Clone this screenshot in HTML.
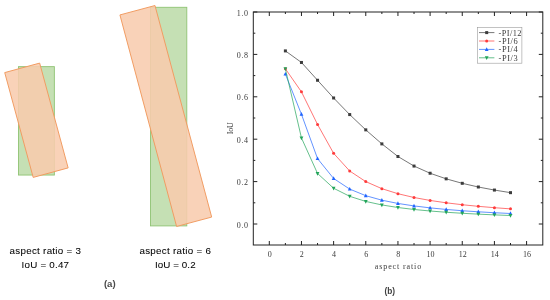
<!DOCTYPE html>
<html lang="en"><head><meta charset="utf-8"><title>IoU vs aspect ratio</title>
<style>
html,body{margin:0;padding:0;background:#fff;}
body{width:550px;height:300px;overflow:hidden;}
svg{display:block;}
.cal{font-family:"Liberation Sans",sans-serif;font-size:9.8px;fill:#000;stroke:#000;stroke-width:0.05px;}
.sim{font-family:"Liberation Serif",serif;font-size:8px;fill:#3a3a3a;}
.cap{font-family:"Liberation Sans",sans-serif;font-weight:bold;fill:#404040;}
</style></head><body>
<svg width="550" height="300" viewBox="0 0 550 300">
<rect width="550" height="300" fill="#fff"/>

<rect x="18.45" y="66.65" width="35.90" height="108.40" fill="#c5e0b4" stroke="#8fc373" stroke-width="0.9"/>
<rect x="-18.10" y="-54.30" width="36.20" height="108.60" fill="#f8cbad" fill-opacity="0.87" stroke="#f19b62" stroke-width="0.9" transform="translate(36.43,120.25) rotate(-15.2)"/>
<rect x="150.50" y="7.30" width="36.30" height="218.60" fill="#c5e0b4" stroke="#8fc373" stroke-width="0.9"/>
<rect x="-18.15" y="-109.50" width="36.30" height="219.00" fill="#f8cbad" fill-opacity="0.87" stroke="#f19b62" stroke-width="0.9" transform="translate(165.80,116.00) rotate(-15)"/>
<text class="cal" x="45.3" y="254.4" text-anchor="middle" textLength="71.4" lengthAdjust="spacing">aspect ratio = 3</text>
<text class="cal" x="45.3" y="267.8" text-anchor="middle" textLength="47.4" lengthAdjust="spacing">IoU = 0.47</text>
<text class="cal" x="175.2" y="254.4" text-anchor="middle" textLength="71.6" lengthAdjust="spacing">aspect ratio = 6</text>
<text class="cal" x="175.3" y="267.8" text-anchor="middle" textLength="40.6" lengthAdjust="spacing">IoU = 0.2</text>
<text class="cap" x="109.8" y="286.5" text-anchor="middle" style="font-size:9.6px;fill:#4a4a4a">(a)</text>
<text class="cap" x="389.7" y="294.3" text-anchor="middle" style="font-size:8.3px">(b)</text>
<rect x="253.3" y="12.0" width="289.50" height="233.00" fill="none" stroke="#222" stroke-width="1"/>
<path d="M269.30,245.0v-4M269.30,12.0v4M285.38,245.0v-2M285.38,12.0v2M301.46,245.0v-4M301.46,12.0v4M317.54,245.0v-2M317.54,12.0v2M333.62,245.0v-4M333.62,12.0v4M349.70,245.0v-2M349.70,12.0v2M365.78,245.0v-4M365.78,12.0v4M381.86,245.0v-2M381.86,12.0v2M397.94,245.0v-4M397.94,12.0v4M414.02,245.0v-2M414.02,12.0v2M430.10,245.0v-4M430.10,12.0v4M446.18,245.0v-2M446.18,12.0v2M462.26,245.0v-4M462.26,12.0v4M478.34,245.0v-2M478.34,12.0v2M494.42,245.0v-4M494.42,12.0v4M510.50,245.0v-2M510.50,12.0v2M526.58,245.0v-4M526.58,12.0v4M253.3,224.00h4M542.8,224.00h-4M253.3,202.80h2M542.8,202.80h-2M253.3,181.60h4M542.8,181.60h-4M253.3,160.40h2M542.8,160.40h-2M253.3,139.20h4M542.8,139.20h-4M253.3,118.00h2M542.8,118.00h-2M253.3,96.80h4M542.8,96.80h-4M253.3,75.60h2M542.8,75.60h-2M253.3,54.40h4M542.8,54.40h-4M253.3,33.20h2M542.8,33.20h-2M253.3,12.00h4M542.8,12.00h-4" stroke="#222" stroke-width="1" fill="none"/>
<text class="sim" x="269.70" y="256.8" text-anchor="middle">0</text>
<text class="sim" x="301.86" y="256.8" text-anchor="middle">2</text>
<text class="sim" x="334.02" y="256.8" text-anchor="middle">4</text>
<text class="sim" x="366.18" y="256.8" text-anchor="middle">6</text>
<text class="sim" x="398.34" y="256.8" text-anchor="middle">8</text>
<text class="sim" x="430.50" y="256.8" text-anchor="middle" textLength="8.0" lengthAdjust="spacing">10</text>
<text class="sim" x="462.66" y="256.8" text-anchor="middle" textLength="8.0" lengthAdjust="spacing">12</text>
<text class="sim" x="494.82" y="256.8" text-anchor="middle" textLength="8.0" lengthAdjust="spacing">14</text>
<text class="sim" x="526.98" y="256.8" text-anchor="middle" textLength="8.0" lengthAdjust="spacing">16</text>
<text class="sim" x="248.0" y="227.60" text-anchor="end" textLength="11.2" lengthAdjust="spacing">0.0</text>
<text class="sim" x="248.0" y="185.20" text-anchor="end" textLength="11.2" lengthAdjust="spacing">0.2</text>
<text class="sim" x="248.0" y="142.80" text-anchor="end" textLength="11.2" lengthAdjust="spacing">0.4</text>
<text class="sim" x="248.0" y="100.40" text-anchor="end" textLength="11.2" lengthAdjust="spacing">0.6</text>
<text class="sim" x="248.0" y="58.00" text-anchor="end" textLength="11.2" lengthAdjust="spacing">0.8</text>
<text class="sim" x="248.0" y="15.60" text-anchor="end" textLength="11.2" lengthAdjust="spacing">1.0</text>
<text class="sim" x="398" y="268.6" text-anchor="middle" textLength="46.3" lengthAdjust="spacing">aspect ratio</text>
<text class="sim" text-anchor="middle" textLength="12" lengthAdjust="spacing" transform="translate(233.2,128.2) rotate(-90)">IoU</text>
<polyline points="285.38,50.90 301.46,62.46 317.54,80.26 333.62,97.98 349.70,114.57 365.78,129.86 381.86,143.89 397.94,156.51 414.02,166.06 430.10,173.24 446.18,178.84 462.26,183.32 478.34,187.00 494.42,190.06 510.50,192.66" fill="none" stroke="#3c3c3c" stroke-width="0.7"/>
<rect x="283.88" y="49.40" width="3.00" height="3.00" fill="#3c3c3c"/>
<rect x="299.96" y="60.96" width="3.00" height="3.00" fill="#3c3c3c"/>
<rect x="316.04" y="78.76" width="3.00" height="3.00" fill="#3c3c3c"/>
<rect x="332.12" y="96.48" width="3.00" height="3.00" fill="#3c3c3c"/>
<rect x="348.20" y="113.07" width="3.00" height="3.00" fill="#3c3c3c"/>
<rect x="364.28" y="128.36" width="3.00" height="3.00" fill="#3c3c3c"/>
<rect x="380.36" y="142.39" width="3.00" height="3.00" fill="#3c3c3c"/>
<rect x="396.44" y="155.01" width="3.00" height="3.00" fill="#3c3c3c"/>
<rect x="412.52" y="164.56" width="3.00" height="3.00" fill="#3c3c3c"/>
<rect x="428.60" y="171.74" width="3.00" height="3.00" fill="#3c3c3c"/>
<rect x="444.68" y="177.34" width="3.00" height="3.00" fill="#3c3c3c"/>
<rect x="460.76" y="181.82" width="3.00" height="3.00" fill="#3c3c3c"/>
<rect x="476.84" y="185.50" width="3.00" height="3.00" fill="#3c3c3c"/>
<rect x="492.92" y="188.56" width="3.00" height="3.00" fill="#3c3c3c"/>
<rect x="509.00" y="191.16" width="3.00" height="3.00" fill="#3c3c3c"/>
<polyline points="285.38,68.81 301.46,91.86 317.54,124.46 333.62,153.33 349.70,171.00 365.78,181.60 381.86,188.67 397.94,193.71 414.02,197.50 430.10,200.44 446.18,202.80 462.26,204.73 478.34,206.33 494.42,207.69 510.50,208.86" fill="none" stroke="#ff3b3b" stroke-width="0.7"/>
<circle cx="285.38" cy="68.81" r="1.50" fill="#ff3b3b"/>
<circle cx="301.46" cy="91.86" r="1.50" fill="#ff3b3b"/>
<circle cx="317.54" cy="124.46" r="1.50" fill="#ff3b3b"/>
<circle cx="333.62" cy="153.33" r="1.50" fill="#ff3b3b"/>
<circle cx="349.70" cy="171.00" r="1.50" fill="#ff3b3b"/>
<circle cx="365.78" cy="181.60" r="1.50" fill="#ff3b3b"/>
<circle cx="381.86" cy="188.67" r="1.50" fill="#ff3b3b"/>
<circle cx="397.94" cy="193.71" r="1.50" fill="#ff3b3b"/>
<circle cx="414.02" cy="197.50" r="1.50" fill="#ff3b3b"/>
<circle cx="430.10" cy="200.44" r="1.50" fill="#ff3b3b"/>
<circle cx="446.18" cy="202.80" r="1.50" fill="#ff3b3b"/>
<circle cx="462.26" cy="204.73" r="1.50" fill="#ff3b3b"/>
<circle cx="478.34" cy="206.33" r="1.50" fill="#ff3b3b"/>
<circle cx="494.42" cy="207.69" r="1.50" fill="#ff3b3b"/>
<circle cx="510.50" cy="208.86" r="1.50" fill="#ff3b3b"/>
<polyline points="285.38,74.09 301.46,114.31 317.54,158.62 333.62,178.48 349.70,189.08 365.78,195.68 381.86,200.18 397.94,203.44 414.02,205.92 430.10,207.87 446.18,209.44 462.26,210.73 478.34,211.81 494.42,212.72 510.50,213.51" fill="none" stroke="#1f64ff" stroke-width="0.7"/>
<polygon points="285.38,71.89 287.28,75.59 283.48,75.59" fill="#1f64ff"/>
<polygon points="301.46,112.11 303.36,115.81 299.56,115.81" fill="#1f64ff"/>
<polygon points="317.54,156.42 319.44,160.12 315.64,160.12" fill="#1f64ff"/>
<polygon points="333.62,176.28 335.52,179.98 331.72,179.98" fill="#1f64ff"/>
<polygon points="349.70,186.88 351.60,190.58 347.80,190.58" fill="#1f64ff"/>
<polygon points="365.78,193.48 367.68,197.18 363.88,197.18" fill="#1f64ff"/>
<polygon points="381.86,197.98 383.76,201.68 379.96,201.68" fill="#1f64ff"/>
<polygon points="397.94,201.24 399.84,204.94 396.04,204.94" fill="#1f64ff"/>
<polygon points="414.02,203.72 415.92,207.42 412.12,207.42" fill="#1f64ff"/>
<polygon points="430.10,205.67 432.00,209.37 428.20,209.37" fill="#1f64ff"/>
<polygon points="446.18,207.24 448.08,210.94 444.28,210.94" fill="#1f64ff"/>
<polygon points="462.26,208.53 464.16,212.23 460.36,212.23" fill="#1f64ff"/>
<polygon points="478.34,209.61 480.24,213.31 476.44,213.31" fill="#1f64ff"/>
<polygon points="494.42,210.52 496.32,214.22 492.52,214.22" fill="#1f64ff"/>
<polygon points="510.50,211.31 512.40,215.01 508.60,215.01" fill="#1f64ff"/>
<polyline points="285.38,68.81 301.46,137.96 317.54,173.48 333.62,188.24 349.70,196.32 365.78,201.43 381.86,204.94 397.94,207.51 414.02,209.47 430.10,211.01 446.18,212.26 462.26,213.28 478.34,214.15 494.42,214.88 510.50,215.51" fill="none" stroke="#22a55a" stroke-width="0.7"/>
<polygon points="285.38,71.01 287.28,67.31 283.48,67.31" fill="#22a55a"/>
<polygon points="301.46,140.16 303.36,136.46 299.56,136.46" fill="#22a55a"/>
<polygon points="317.54,175.68 319.44,171.98 315.64,171.98" fill="#22a55a"/>
<polygon points="333.62,190.44 335.52,186.74 331.72,186.74" fill="#22a55a"/>
<polygon points="349.70,198.52 351.60,194.82 347.80,194.82" fill="#22a55a"/>
<polygon points="365.78,203.63 367.68,199.93 363.88,199.93" fill="#22a55a"/>
<polygon points="381.86,207.14 383.76,203.44 379.96,203.44" fill="#22a55a"/>
<polygon points="397.94,209.71 399.84,206.01 396.04,206.01" fill="#22a55a"/>
<polygon points="414.02,211.67 415.92,207.97 412.12,207.97" fill="#22a55a"/>
<polygon points="430.10,213.21 432.00,209.51 428.20,209.51" fill="#22a55a"/>
<polygon points="446.18,214.46 448.08,210.76 444.28,210.76" fill="#22a55a"/>
<polygon points="462.26,215.48 464.16,211.78 460.36,211.78" fill="#22a55a"/>
<polygon points="478.34,216.35 480.24,212.65 476.44,212.65" fill="#22a55a"/>
<polygon points="494.42,217.08 496.32,213.38 492.52,213.38" fill="#22a55a"/>
<polygon points="510.50,217.71 512.40,214.01 508.60,214.01" fill="#22a55a"/>
<rect x="477.4" y="27.4" width="44.5" height="35.8" fill="#fff" stroke="#9a9a9a" stroke-width="0.6"/>
<path d="M479,32.60H494.4" stroke="#3c3c3c" stroke-width="0.7"/>
<rect x="485.20" y="31.10" width="3.00" height="3.00" fill="#3c3c3c"/>
<text class="sim" x="498.6" y="35.60" text-anchor="start" textLength="22.8" lengthAdjust="spacing" style="font-size:8.4px">-PI/12</text>
<path d="M479,41.00H494.4" stroke="#ff3b3b" stroke-width="0.7"/>
<circle cx="486.70" cy="41.00" r="1.50" fill="#ff3b3b"/>
<text class="sim" x="498.6" y="44.00" text-anchor="start" textLength="19.0" lengthAdjust="spacing" style="font-size:8.4px">-PI/6</text>
<path d="M479,49.40H494.4" stroke="#1f64ff" stroke-width="0.7"/>
<polygon points="486.70,47.20 488.60,50.90 484.80,50.90" fill="#1f64ff"/>
<text class="sim" x="498.6" y="52.40" text-anchor="start" textLength="19.0" lengthAdjust="spacing" style="font-size:8.4px">-PI/4</text>
<path d="M479,57.80H494.4" stroke="#22a55a" stroke-width="0.7"/>
<polygon points="486.70,60.00 488.60,56.30 484.80,56.30" fill="#22a55a"/>
<text class="sim" x="498.6" y="60.80" text-anchor="start" textLength="19.0" lengthAdjust="spacing" style="font-size:8.4px">-PI/3</text>
</svg>
</body></html>
